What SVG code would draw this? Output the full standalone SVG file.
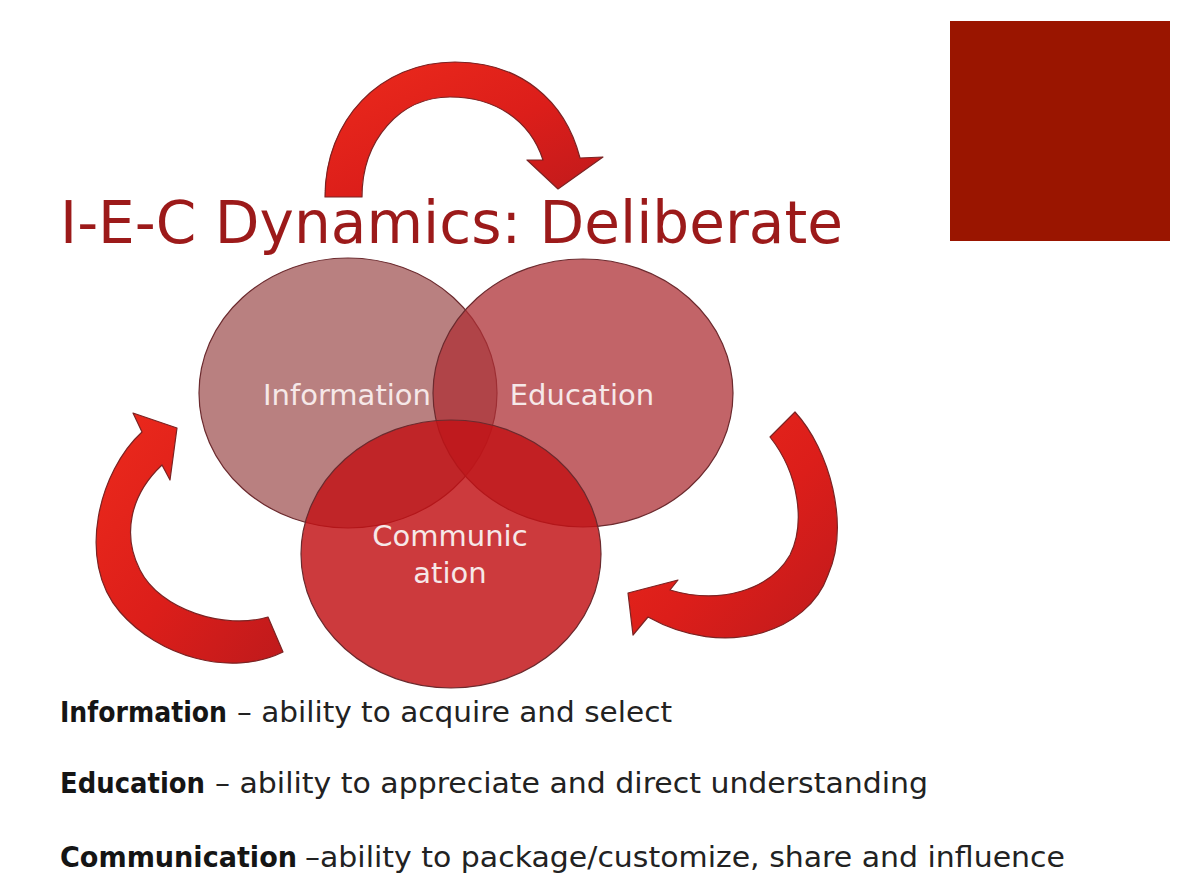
<svg xmlns="http://www.w3.org/2000/svg" width="1199" height="894" viewBox="0 0 1199 894">
  <style>
    .lbl { font-family: "DejaVu Sans", "Liberation Sans", sans-serif; font-size: 29px; fill: #f6e8e8; text-anchor: middle; }
    .title { font-family: "DejaVu Sans", "Liberation Sans", sans-serif; font-size: 58px; font-weight: normal; fill: #9c1a1a; }
    .b { font-family: "DejaVu Sans", "Liberation Sans", sans-serif; font-size: 28px; font-weight: bold; fill: #151515; }
    .r { font-family: "DejaVu Sans", "Liberation Sans", sans-serif; font-size: 28px; fill: #222222; }
    .circ { stroke: #6b2a2e; stroke-width: 1.2; }
    .arrow { fill: url(#arrowGrad); stroke: #7b2323; stroke-width: 1.2; stroke-linejoin: round; }
  </style>
  <defs>
    <linearGradient id="arrowGrad" x1="0" y1="0" x2="1" y2="1">
      <stop offset="0" stop-color="#ec2a1c"/>
      <stop offset="0.55" stop-color="#dc1e1a"/>
      <stop offset="1" stop-color="#bf1a1c"/>
    </linearGradient>
  </defs>
  <rect width="1199" height="894" fill="#ffffff"/>

  <rect id="square" x="950" y="21" width="220" height="220" fill="#9a1500"/>

  <g id="connectors">
    <path id="arrow-top" class="arrow" d="M325,197 C325,120 380,62 455,62 C520,62 565,100 580,158 L603,157 L558,189 L527,160 L543,160 C530,120 495,97 450,97 C400,97 362,140 362,197 Z"/>
    <path id="arrow-right" class="arrow" d="M770,437 L795,412 C830,450 850,525 828,575 C808,632 725,660 648,617 L633,635 L628,593 L678,580 L670,590 C720,605 770,590 790,555 C805,525 800,475 770,437 Z"/>
    <path id="arrow-left" class="arrow" d="M283,652 L268,617 C225,630 160,610 140,570 C122,535 130,495 162,465 L170,480 L177,428 L133,413 L142,432 C100,470 75,560 120,612 C158,656 230,678 283,652 Z"/>
  </g>

  <text id="title" class="title" x="60" y="243" textLength="783" lengthAdjust="spacingAndGlyphs">I-E-C Dynamics: Deliberate</text>

  <g id="node-information">
    <ellipse class="circ" cx="348" cy="393" rx="149" ry="135" fill="#b98080"/>
  </g>
  <g id="node-education">
    <ellipse class="circ" cx="583" cy="393" rx="150" ry="134" fill="rgb(174,48,54)" fill-opacity="0.75"/>
  </g>
  <g id="node-communication">
    <ellipse class="circ" cx="451" cy="554" rx="150" ry="134" fill="rgb(194,18,22)" fill-opacity="0.83"/>
  </g>
  <g id="labels">
    <text class="lbl" x="347" y="405">Information</text>
    <text class="lbl" x="582" y="405">Education</text>
    <text class="lbl" x="450" y="546">Communic</text>
    <text class="lbl" x="450" y="583">ation</text>
  </g>

  <g id="legend">
    <text class="b" x="60" y="722" textLength="167" lengthAdjust="spacingAndGlyphs">Information</text>
    <text class="r" x="237" y="722" textLength="435" lengthAdjust="spacingAndGlyphs">– ability to acquire and select</text>
    <text class="b" x="60" y="793" textLength="145" lengthAdjust="spacingAndGlyphs">Education</text>
    <text class="r" x="215" y="793" textLength="713" lengthAdjust="spacingAndGlyphs">– ability to appreciate and direct understanding</text>
    <text class="b" x="60" y="867" textLength="237" lengthAdjust="spacingAndGlyphs">Communication</text>
    <text class="r" x="305" y="867" textLength="760" lengthAdjust="spacingAndGlyphs">–ability to package/customize, share and influence</text>
  </g>
</svg>
